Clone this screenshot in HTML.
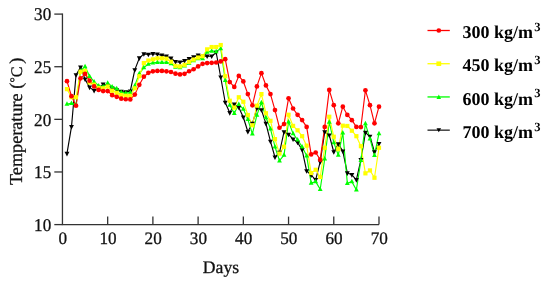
<!DOCTYPE html>
<html><head><meta charset="utf-8"><style>
html,body{margin:0;padding:0;background:#fff;}
body{width:550px;height:288px;overflow:hidden;}
svg{display:block;filter:blur(0.3px);}
text{font-family:"Liberation Serif","Times New Roman",serif;fill:#111;text-rendering:geometricPrecision;stroke:#111;stroke-width:0.3px;}
.lg{font-weight:bold;font-size:18px;fill:#000;stroke:none;}
</style></head><body>
<svg width="550" height="288" viewBox="0 0 550 288">
<rect width="550" height="288" fill="#fff"/>

<g stroke="#333333" stroke-width="1.3" fill="none">
<path d="M62.45 13.45 V224.6 H378.99"/>
<path d="M54.3 224.60 H62.45"/><path d="M54.3 171.97 H62.45"/><path d="M54.3 119.35 H62.45"/><path d="M54.3 66.72 H62.45"/><path d="M54.3 14.10 H62.45"/><path d="M107.67 224.6 V216.6"/><path d="M152.89 224.6 V216.6"/><path d="M198.11 224.6 V216.6"/><path d="M243.33 224.6 V216.6"/><path d="M288.55 224.6 V216.6"/><path d="M333.77 224.6 V216.6"/><path d="M378.99 224.6 V216.6"/></g>

<g fill="none" stroke-width="1.15" stroke-linejoin="round">
<polyline stroke="#000000" points="66.97,153.56 71.49,126.72 76.02,74.93 80.54,67.25 85.06,79.14 89.58,87.35 94.10,90.62 98.63,88.83 103.15,84.20 107.67,85.67 112.19,88.30 116.71,89.88 121.24,91.46 125.76,91.98 130.28,91.14 134.80,69.88 139.32,58.09 143.85,53.88 148.37,54.41 152.89,53.78 157.41,54.20 161.93,55.36 166.46,56.20 170.98,58.30 175.50,61.78 180.02,62.20 184.54,60.83 189.07,58.83 193.59,57.04 198.11,55.25 202.63,56.20 207.15,56.20 211.68,56.20 216.20,52.52 220.72,77.25 225.24,102.51 229.76,112.82 234.29,104.30 238.81,107.46 243.33,117.25 247.85,131.77 252.37,123.56 256.90,108.30 261.42,109.88 265.94,123.56 270.46,141.45 274.98,157.24 279.51,152.50 284.03,131.98 288.55,134.40 293.07,139.14 297.59,142.50 302.12,149.87 306.64,170.92 311.16,175.13 315.68,179.87 320.20,161.98 324.73,131.98 329.25,135.14 333.77,151.98 338.29,144.08 342.81,151.14 347.34,173.03 351.86,174.82 356.38,179.87 360.90,159.87 365.42,132.61 369.95,136.40 374.47,151.98 378.99,143.77"/>
<polyline stroke="#00ff00" points="66.97,104.09 71.49,103.35 76.02,104.62 80.54,70.93 85.06,66.51 89.58,76.20 94.10,81.67 98.63,85.67 103.15,86.72 107.67,82.93 112.19,86.72 116.71,88.62 121.24,92.41 125.76,92.93 130.28,92.51 134.80,85.67 139.32,73.57 143.85,67.57 148.37,63.99 152.89,62.73 157.41,62.20 161.93,62.20 166.46,62.20 170.98,63.57 175.50,66.94 180.02,67.46 184.54,65.88 189.07,62.94 193.59,60.62 198.11,58.62 202.63,58.52 207.15,51.99 211.68,50.94 216.20,51.46 220.72,48.62 225.24,80.20 229.76,105.04 234.29,113.35 238.81,104.40 243.33,109.14 247.85,119.35 252.37,133.87 256.90,115.14 261.42,102.51 265.94,117.56 270.46,128.82 274.98,146.72 279.51,160.71 284.03,155.13 288.55,121.67 293.07,133.66 297.59,139.77 302.12,146.72 306.64,155.87 311.16,183.13 315.68,181.66 320.20,189.24 324.73,158.82 329.25,121.98 333.77,142.50 338.29,155.13 342.81,132.82 347.34,183.24 351.86,181.66 356.38,189.87 360.90,160.40 365.42,123.56 369.95,138.72 374.47,155.24 378.99,133.45"/>
<polyline stroke="#ffff00" points="66.97,89.14 71.49,97.25 76.02,97.25 80.54,71.78 85.06,70.93 89.58,82.51 94.10,84.62 98.63,87.99 103.15,88.30 107.67,86.51 112.19,90.72 116.71,92.83 121.24,94.93 125.76,95.77 130.28,95.77 134.80,88.30 139.32,76.20 143.85,63.04 148.37,60.52 152.89,59.36 157.41,58.30 161.93,58.30 166.46,58.73 170.98,61.67 175.50,65.88 180.02,66.41 184.54,64.83 189.07,61.88 193.59,59.57 198.11,57.57 202.63,56.20 207.15,49.36 211.68,47.04 216.20,47.04 220.72,45.04 225.24,76.20 229.76,100.72 234.29,107.56 238.81,97.25 243.33,101.77 247.85,115.03 252.37,125.24 256.90,105.67 261.42,94.09 265.94,113.25 270.46,120.82 274.98,139.14 279.51,153.56 284.03,146.72 288.55,114.72 293.07,125.88 297.59,130.30 302.12,136.19 306.64,145.66 311.16,173.03 315.68,169.76 320.20,177.03 324.73,147.77 329.25,116.72 333.77,136.72 338.29,149.14 342.81,125.67 347.34,125.98 351.86,130.72 356.38,136.19 360.90,146.19 365.42,173.34 369.95,170.40 374.47,177.76 378.99,147.77"/>
<polyline stroke="#ff0000" points="66.97,81.14 71.49,96.19 76.02,105.67 80.54,78.30 85.06,73.88 89.58,80.72 94.10,86.41 98.63,89.88 103.15,91.04 107.67,91.04 112.19,95.14 116.71,96.83 121.24,98.72 125.76,99.25 130.28,99.46 134.80,94.62 139.32,84.83 143.85,76.72 148.37,72.83 152.89,71.36 157.41,70.93 161.93,70.93 166.46,71.36 170.98,71.99 175.50,73.67 180.02,74.41 184.54,73.78 189.07,71.25 193.59,69.25 198.11,66.41 202.63,63.78 207.15,63.04 211.68,62.83 216.20,62.52 220.72,61.46 225.24,59.15 229.76,82.09 234.29,86.93 238.81,75.88 243.33,81.46 247.85,94.09 252.37,105.35 256.90,86.41 261.42,73.15 265.94,85.46 270.46,94.09 274.98,110.09 279.51,127.77 284.03,124.09 288.55,98.30 293.07,108.51 297.59,114.82 302.12,120.09 306.64,126.93 311.16,154.40 315.68,152.50 320.20,159.66 324.73,126.93 329.25,89.88 333.77,105.14 338.29,123.35 342.81,106.72 347.34,114.93 351.86,120.19 356.38,126.93 360.90,127.03 365.42,90.30 369.95,105.14 374.47,123.35 378.99,106.72"/>
</g>
<g fill="#000000"><path d="M66.97 156.41L69.42 151.81L64.52 151.81Z"/><path d="M71.49 129.57L73.94 124.97L69.04 124.97Z"/><path d="M76.02 77.79L78.47 73.19L73.57 73.19Z"/><path d="M80.54 70.10L82.99 65.50L78.09 65.50Z"/><path d="M85.06 82.00L87.51 77.40L82.61 77.40Z"/><path d="M89.58 90.21L92.03 85.61L87.13 85.61Z"/><path d="M94.10 93.47L96.55 88.87L91.65 88.87Z"/><path d="M98.63 91.68L101.08 87.08L96.18 87.08Z"/><path d="M103.15 87.05L105.60 82.45L100.70 82.45Z"/><path d="M107.67 88.52L110.12 83.92L105.22 83.92Z"/><path d="M112.19 91.15L114.64 86.55L109.74 86.55Z"/><path d="M116.71 92.73L119.16 88.13L114.26 88.13Z"/><path d="M121.24 94.31L123.69 89.71L118.79 89.71Z"/><path d="M125.76 94.84L128.21 90.24L123.31 90.24Z"/><path d="M130.28 94.00L132.73 89.39L127.83 89.39Z"/><path d="M134.80 72.73L137.25 68.13L132.35 68.13Z"/><path d="M139.32 60.95L141.77 56.35L136.87 56.35Z"/><path d="M143.85 56.74L146.30 52.14L141.40 52.14Z"/><path d="M148.37 57.26L150.82 52.66L145.92 52.66Z"/><path d="M152.89 56.63L155.34 52.03L150.44 52.03Z"/><path d="M157.41 57.05L159.86 52.45L154.96 52.45Z"/><path d="M161.93 58.21L164.38 53.61L159.48 53.61Z"/><path d="M166.46 59.05L168.91 54.45L164.01 54.45Z"/><path d="M170.98 61.16L173.43 56.56L168.53 56.56Z"/><path d="M175.50 64.63L177.95 60.03L173.05 60.03Z"/><path d="M180.02 65.05L182.47 60.45L177.57 60.45Z"/><path d="M184.54 63.68L186.99 59.08L182.09 59.08Z"/><path d="M189.07 61.68L191.52 57.08L186.62 57.08Z"/><path d="M193.59 59.89L196.04 55.29L191.14 55.29Z"/><path d="M198.11 58.10L200.56 53.50L195.66 53.50Z"/><path d="M202.63 59.05L205.08 54.45L200.18 54.45Z"/><path d="M207.15 59.05L209.60 54.45L204.70 54.45Z"/><path d="M211.68 59.05L214.13 54.45L209.23 54.45Z"/><path d="M216.20 55.37L218.65 50.77L213.75 50.77Z"/><path d="M220.72 80.10L223.17 75.50L218.27 75.50Z"/><path d="M225.24 105.36L227.69 100.76L222.79 100.76Z"/><path d="M229.76 115.68L232.21 111.08L227.31 111.08Z"/><path d="M234.29 107.15L236.74 102.55L231.84 102.55Z"/><path d="M238.81 110.31L241.26 105.71L236.36 105.71Z"/><path d="M243.33 120.10L245.78 115.50L240.88 115.50Z"/><path d="M247.85 134.62L250.30 130.02L245.40 130.02Z"/><path d="M252.37 126.41L254.82 121.81L249.92 121.81Z"/><path d="M256.90 111.15L259.35 106.55L254.45 106.55Z"/><path d="M261.42 112.73L263.87 108.13L258.97 108.13Z"/><path d="M265.94 126.41L268.39 121.81L263.49 121.81Z"/><path d="M270.46 144.30L272.91 139.70L268.01 139.70Z"/><path d="M274.98 160.09L277.43 155.49L272.53 155.49Z"/><path d="M279.51 155.36L281.96 150.76L277.06 150.76Z"/><path d="M284.03 134.83L286.48 130.23L281.58 130.23Z"/><path d="M288.55 137.25L291.00 132.65L286.10 132.65Z"/><path d="M293.07 141.99L295.52 137.39L290.62 137.39Z"/><path d="M297.59 145.36L300.04 140.76L295.14 140.76Z"/><path d="M302.12 152.72L304.57 148.12L299.67 148.12Z"/><path d="M306.64 173.77L309.09 169.17L304.19 169.17Z"/><path d="M311.16 177.98L313.61 173.38L308.71 173.38Z"/><path d="M315.68 182.72L318.13 178.12L313.23 178.12Z"/><path d="M320.20 164.83L322.65 160.23L317.75 160.23Z"/><path d="M324.73 134.83L327.18 130.23L322.28 130.23Z"/><path d="M329.25 137.99L331.70 133.39L326.80 133.39Z"/><path d="M333.77 154.83L336.22 150.23L331.32 150.23Z"/><path d="M338.29 146.94L340.74 142.34L335.84 142.34Z"/><path d="M342.81 153.99L345.26 149.39L340.36 149.39Z"/><path d="M347.34 175.88L349.79 171.28L344.89 171.28Z"/><path d="M351.86 177.67L354.31 173.07L349.41 173.07Z"/><path d="M356.38 182.72L358.83 178.12L353.93 178.12Z"/><path d="M360.90 162.72L363.35 158.12L358.45 158.12Z"/><path d="M365.42 135.46L367.87 130.86L362.97 130.86Z"/><path d="M369.95 139.25L372.40 134.65L367.50 134.65Z"/><path d="M374.47 154.83L376.92 150.23L372.02 150.23Z"/><path d="M378.99 146.62L381.44 142.02L376.54 142.02Z"/></g>
<g fill="#00ff00"><path d="M66.97 101.30L69.37 105.80L64.57 105.80Z"/><path d="M71.49 100.56L73.89 105.06L69.09 105.06Z"/><path d="M76.02 101.83L78.42 106.33L73.62 106.33Z"/><path d="M80.54 68.14L82.94 72.64L78.14 72.64Z"/><path d="M85.06 63.72L87.46 68.22L82.66 68.22Z"/><path d="M89.58 73.41L91.98 77.91L87.18 77.91Z"/><path d="M94.10 78.88L96.50 83.38L91.70 83.38Z"/><path d="M98.63 82.88L101.03 87.38L96.23 87.38Z"/><path d="M103.15 83.93L105.55 88.43L100.75 88.43Z"/><path d="M107.67 80.14L110.07 84.64L105.27 84.64Z"/><path d="M112.19 83.93L114.59 88.43L109.79 88.43Z"/><path d="M116.71 85.83L119.11 90.33L114.31 90.33Z"/><path d="M121.24 89.62L123.64 94.12L118.84 94.12Z"/><path d="M125.76 90.14L128.16 94.64L123.36 94.64Z"/><path d="M130.28 89.72L132.68 94.22L127.88 94.22Z"/><path d="M134.80 82.88L137.20 87.38L132.40 87.38Z"/><path d="M139.32 70.78L141.72 75.28L136.92 75.28Z"/><path d="M143.85 64.78L146.25 69.28L141.45 69.28Z"/><path d="M148.37 61.20L150.77 65.70L145.97 65.70Z"/><path d="M152.89 59.94L155.29 64.44L150.49 64.44Z"/><path d="M157.41 59.41L159.81 63.91L155.01 63.91Z"/><path d="M161.93 59.41L164.33 63.91L159.53 63.91Z"/><path d="M166.46 59.41L168.86 63.91L164.06 63.91Z"/><path d="M170.98 60.78L173.38 65.28L168.58 65.28Z"/><path d="M175.50 64.15L177.90 68.65L173.10 68.65Z"/><path d="M180.02 64.67L182.42 69.17L177.62 69.17Z"/><path d="M184.54 63.09L186.94 67.59L182.14 67.59Z"/><path d="M189.07 60.15L191.47 64.65L186.67 64.65Z"/><path d="M193.59 57.83L195.99 62.33L191.19 62.33Z"/><path d="M198.11 55.83L200.51 60.33L195.71 60.33Z"/><path d="M202.63 55.73L205.03 60.23L200.23 60.23Z"/><path d="M207.15 49.20L209.55 53.70L204.75 53.70Z"/><path d="M211.68 48.15L214.08 52.65L209.28 52.65Z"/><path d="M216.20 48.67L218.60 53.17L213.80 53.17Z"/><path d="M220.72 45.83L223.12 50.33L218.32 50.33Z"/><path d="M225.24 77.41L227.64 81.91L222.84 81.91Z"/><path d="M229.76 102.25L232.16 106.75L227.36 106.75Z"/><path d="M234.29 110.56L236.69 115.06L231.89 115.06Z"/><path d="M238.81 101.61L241.21 106.11L236.41 106.11Z"/><path d="M243.33 106.35L245.73 110.85L240.93 110.85Z"/><path d="M247.85 116.56L250.25 121.06L245.45 121.06Z"/><path d="M252.37 131.08L254.77 135.58L249.97 135.58Z"/><path d="M256.90 112.35L259.30 116.85L254.50 116.85Z"/><path d="M261.42 99.72L263.82 104.22L259.02 104.22Z"/><path d="M265.94 114.77L268.34 119.27L263.54 119.27Z"/><path d="M270.46 126.03L272.86 130.53L268.06 130.53Z"/><path d="M274.98 143.93L277.38 148.43L272.58 148.43Z"/><path d="M279.51 157.92L281.91 162.42L277.11 162.42Z"/><path d="M284.03 152.34L286.43 156.84L281.63 156.84Z"/><path d="M288.55 118.88L290.95 123.38L286.15 123.38Z"/><path d="M293.07 130.87L295.47 135.37L290.67 135.37Z"/><path d="M297.59 136.98L299.99 141.48L295.19 141.48Z"/><path d="M302.12 143.93L304.52 148.43L299.72 148.43Z"/><path d="M306.64 153.08L309.04 157.58L304.24 157.58Z"/><path d="M311.16 180.34L313.56 184.84L308.76 184.84Z"/><path d="M315.68 178.87L318.08 183.37L313.28 183.37Z"/><path d="M320.20 186.45L322.60 190.95L317.80 190.95Z"/><path d="M324.73 156.03L327.13 160.53L322.33 160.53Z"/><path d="M329.25 119.19L331.65 123.69L326.85 123.69Z"/><path d="M333.77 139.72L336.17 144.22L331.37 144.22Z"/><path d="M338.29 152.34L340.69 156.84L335.89 156.84Z"/><path d="M342.81 130.03L345.21 134.53L340.41 134.53Z"/><path d="M347.34 180.45L349.74 184.95L344.94 184.95Z"/><path d="M351.86 178.87L354.26 183.37L349.46 183.37Z"/><path d="M356.38 187.08L358.78 191.58L353.98 191.58Z"/><path d="M360.90 157.61L363.30 162.11L358.50 162.11Z"/><path d="M365.42 120.77L367.82 125.27L363.02 125.27Z"/><path d="M369.95 135.93L372.35 140.43L367.55 140.43Z"/><path d="M374.47 152.45L376.87 156.95L372.07 156.95Z"/><path d="M378.99 130.66L381.39 135.16L376.59 135.16Z"/></g>
<g fill="#ffff00"><rect x="64.87" y="87.04" width="4.2" height="4.2"/><rect x="69.39" y="95.15" width="4.2" height="4.2"/><rect x="73.92" y="95.15" width="4.2" height="4.2"/><rect x="78.44" y="69.68" width="4.2" height="4.2"/><rect x="82.96" y="68.83" width="4.2" height="4.2"/><rect x="87.48" y="80.41" width="4.2" height="4.2"/><rect x="92.00" y="82.52" width="4.2" height="4.2"/><rect x="96.53" y="85.89" width="4.2" height="4.2"/><rect x="101.05" y="86.20" width="4.2" height="4.2"/><rect x="105.57" y="84.41" width="4.2" height="4.2"/><rect x="110.09" y="88.62" width="4.2" height="4.2"/><rect x="114.61" y="90.73" width="4.2" height="4.2"/><rect x="119.14" y="92.83" width="4.2" height="4.2"/><rect x="123.66" y="93.67" width="4.2" height="4.2"/><rect x="128.18" y="93.67" width="4.2" height="4.2"/><rect x="132.70" y="86.20" width="4.2" height="4.2"/><rect x="137.22" y="74.10" width="4.2" height="4.2"/><rect x="141.75" y="60.94" width="4.2" height="4.2"/><rect x="146.27" y="58.42" width="4.2" height="4.2"/><rect x="150.79" y="57.26" width="4.2" height="4.2"/><rect x="155.31" y="56.20" width="4.2" height="4.2"/><rect x="159.83" y="56.20" width="4.2" height="4.2"/><rect x="164.36" y="56.63" width="4.2" height="4.2"/><rect x="168.88" y="59.57" width="4.2" height="4.2"/><rect x="173.40" y="63.78" width="4.2" height="4.2"/><rect x="177.92" y="64.31" width="4.2" height="4.2"/><rect x="182.44" y="62.73" width="4.2" height="4.2"/><rect x="186.97" y="59.78" width="4.2" height="4.2"/><rect x="191.49" y="57.47" width="4.2" height="4.2"/><rect x="196.01" y="55.47" width="4.2" height="4.2"/><rect x="200.53" y="54.10" width="4.2" height="4.2"/><rect x="205.05" y="47.26" width="4.2" height="4.2"/><rect x="209.58" y="44.94" width="4.2" height="4.2"/><rect x="214.10" y="44.94" width="4.2" height="4.2"/><rect x="218.62" y="42.94" width="4.2" height="4.2"/><rect x="223.14" y="74.10" width="4.2" height="4.2"/><rect x="227.66" y="98.62" width="4.2" height="4.2"/><rect x="232.19" y="105.46" width="4.2" height="4.2"/><rect x="236.71" y="95.15" width="4.2" height="4.2"/><rect x="241.23" y="99.67" width="4.2" height="4.2"/><rect x="245.75" y="112.93" width="4.2" height="4.2"/><rect x="250.27" y="123.14" width="4.2" height="4.2"/><rect x="254.80" y="103.57" width="4.2" height="4.2"/><rect x="259.32" y="91.99" width="4.2" height="4.2"/><rect x="263.84" y="111.15" width="4.2" height="4.2"/><rect x="268.36" y="118.72" width="4.2" height="4.2"/><rect x="272.88" y="137.04" width="4.2" height="4.2"/><rect x="277.41" y="151.46" width="4.2" height="4.2"/><rect x="281.93" y="144.62" width="4.2" height="4.2"/><rect x="286.45" y="112.62" width="4.2" height="4.2"/><rect x="290.97" y="123.78" width="4.2" height="4.2"/><rect x="295.49" y="128.20" width="4.2" height="4.2"/><rect x="300.02" y="134.09" width="4.2" height="4.2"/><rect x="304.54" y="143.56" width="4.2" height="4.2"/><rect x="309.06" y="170.93" width="4.2" height="4.2"/><rect x="313.58" y="167.66" width="4.2" height="4.2"/><rect x="318.10" y="174.93" width="4.2" height="4.2"/><rect x="322.63" y="145.67" width="4.2" height="4.2"/><rect x="327.15" y="114.62" width="4.2" height="4.2"/><rect x="331.67" y="134.62" width="4.2" height="4.2"/><rect x="336.19" y="147.04" width="4.2" height="4.2"/><rect x="340.71" y="123.57" width="4.2" height="4.2"/><rect x="345.24" y="123.88" width="4.2" height="4.2"/><rect x="349.76" y="128.62" width="4.2" height="4.2"/><rect x="354.28" y="134.09" width="4.2" height="4.2"/><rect x="358.80" y="144.09" width="4.2" height="4.2"/><rect x="363.32" y="171.24" width="4.2" height="4.2"/><rect x="367.85" y="168.30" width="4.2" height="4.2"/><rect x="372.37" y="175.66" width="4.2" height="4.2"/><rect x="376.89" y="145.67" width="4.2" height="4.2"/></g>
<g fill="#ff0000"><circle cx="66.97" cy="81.14" r="2.35"/><circle cx="71.49" cy="96.19" r="2.35"/><circle cx="76.02" cy="105.67" r="2.35"/><circle cx="80.54" cy="78.30" r="2.35"/><circle cx="85.06" cy="73.88" r="2.35"/><circle cx="89.58" cy="80.72" r="2.35"/><circle cx="94.10" cy="86.41" r="2.35"/><circle cx="98.63" cy="89.88" r="2.35"/><circle cx="103.15" cy="91.04" r="2.35"/><circle cx="107.67" cy="91.04" r="2.35"/><circle cx="112.19" cy="95.14" r="2.35"/><circle cx="116.71" cy="96.83" r="2.35"/><circle cx="121.24" cy="98.72" r="2.35"/><circle cx="125.76" cy="99.25" r="2.35"/><circle cx="130.28" cy="99.46" r="2.35"/><circle cx="134.80" cy="94.62" r="2.35"/><circle cx="139.32" cy="84.83" r="2.35"/><circle cx="143.85" cy="76.72" r="2.35"/><circle cx="148.37" cy="72.83" r="2.35"/><circle cx="152.89" cy="71.36" r="2.35"/><circle cx="157.41" cy="70.93" r="2.35"/><circle cx="161.93" cy="70.93" r="2.35"/><circle cx="166.46" cy="71.36" r="2.35"/><circle cx="170.98" cy="71.99" r="2.35"/><circle cx="175.50" cy="73.67" r="2.35"/><circle cx="180.02" cy="74.41" r="2.35"/><circle cx="184.54" cy="73.78" r="2.35"/><circle cx="189.07" cy="71.25" r="2.35"/><circle cx="193.59" cy="69.25" r="2.35"/><circle cx="198.11" cy="66.41" r="2.35"/><circle cx="202.63" cy="63.78" r="2.35"/><circle cx="207.15" cy="63.04" r="2.35"/><circle cx="211.68" cy="62.83" r="2.35"/><circle cx="216.20" cy="62.52" r="2.35"/><circle cx="220.72" cy="61.46" r="2.35"/><circle cx="225.24" cy="59.15" r="2.35"/><circle cx="229.76" cy="82.09" r="2.35"/><circle cx="234.29" cy="86.93" r="2.35"/><circle cx="238.81" cy="75.88" r="2.35"/><circle cx="243.33" cy="81.46" r="2.35"/><circle cx="247.85" cy="94.09" r="2.35"/><circle cx="252.37" cy="105.35" r="2.35"/><circle cx="256.90" cy="86.41" r="2.35"/><circle cx="261.42" cy="73.15" r="2.35"/><circle cx="265.94" cy="85.46" r="2.35"/><circle cx="270.46" cy="94.09" r="2.35"/><circle cx="274.98" cy="110.09" r="2.35"/><circle cx="279.51" cy="127.77" r="2.35"/><circle cx="284.03" cy="124.09" r="2.35"/><circle cx="288.55" cy="98.30" r="2.35"/><circle cx="293.07" cy="108.51" r="2.35"/><circle cx="297.59" cy="114.82" r="2.35"/><circle cx="302.12" cy="120.09" r="2.35"/><circle cx="306.64" cy="126.93" r="2.35"/><circle cx="311.16" cy="154.40" r="2.35"/><circle cx="315.68" cy="152.50" r="2.35"/><circle cx="320.20" cy="159.66" r="2.35"/><circle cx="324.73" cy="126.93" r="2.35"/><circle cx="329.25" cy="89.88" r="2.35"/><circle cx="333.77" cy="105.14" r="2.35"/><circle cx="338.29" cy="123.35" r="2.35"/><circle cx="342.81" cy="106.72" r="2.35"/><circle cx="347.34" cy="114.93" r="2.35"/><circle cx="351.86" cy="120.19" r="2.35"/><circle cx="356.38" cy="126.93" r="2.35"/><circle cx="360.90" cy="127.03" r="2.35"/><circle cx="365.42" cy="90.30" r="2.35"/><circle cx="369.95" cy="105.14" r="2.35"/><circle cx="374.47" cy="123.35" r="2.35"/><circle cx="378.99" cy="106.72" r="2.35"/></g>

<text transform="translate(51.20,230.80) scale(0.95,1)" text-anchor="end" style="font-size:18px">10</text><text transform="translate(51.20,178.17) scale(0.95,1)" text-anchor="end" style="font-size:18px">15</text><text transform="translate(51.20,125.55) scale(0.95,1)" text-anchor="end" style="font-size:18px">20</text><text transform="translate(51.20,72.92) scale(0.95,1)" text-anchor="end" style="font-size:18px">25</text><text transform="translate(51.20,20.30) scale(0.95,1)" text-anchor="end" style="font-size:18px">30</text>
<text transform="translate(62.75,244) scale(0.98,1)" text-anchor="middle" style="font-size:17.5px">0</text><text transform="translate(107.97,244) scale(0.98,1)" text-anchor="middle" style="font-size:17.5px">10</text><text transform="translate(153.19,244) scale(0.98,1)" text-anchor="middle" style="font-size:17.5px">20</text><text transform="translate(198.41,244) scale(0.98,1)" text-anchor="middle" style="font-size:17.5px">30</text><text transform="translate(243.63,244) scale(0.98,1)" text-anchor="middle" style="font-size:17.5px">40</text><text transform="translate(288.85,244) scale(0.98,1)" text-anchor="middle" style="font-size:17.5px">50</text><text transform="translate(334.07,244) scale(0.98,1)" text-anchor="middle" style="font-size:17.5px">60</text><text transform="translate(379.29,244) scale(0.98,1)" text-anchor="middle" style="font-size:17.5px">70</text>
<text transform="translate(221,273.2)" text-anchor="middle" style="font-size:17.7px">Days</text>
<text transform="translate(21.8,121.4) rotate(-90)" text-anchor="middle" style="font-size:18.2px">Temperature (<tspan dx="0.4" dy="-3.2" style="font-size:13px">°</tspan><tspan dx="-0.1" dy="3.2" style="font-size:16.2px">C</tspan><tspan dx="2.6">)</tspan></text>
<path d="M427.5 30.50 H449.8" stroke="#ff0000" stroke-width="1.3"/><circle cx="438.8" cy="30.50" r="2.35" fill="#ff0000"/><text x="462.6" y="38.00" class="lg">300 kg/m<tspan dx="1.1" dy="-7.2" style="font-size:12.6px">3</tspan></text><path d="M427.5 63.72 H449.8" stroke="#ffff00" stroke-width="1.3"/><rect x="436.40" y="61.42" width="4.8" height="4.6" fill="#ffff00"/><text x="462.6" y="71.32" class="lg">450 kg/m<tspan dx="1.1" dy="-7.2" style="font-size:12.6px">3</tspan></text><path d="M427.5 96.94 H449.8" stroke="#00ff00" stroke-width="1.3"/><path d="M438.8 94.54L441.10 98.94L436.50 98.94Z" fill="#00ff00"/><text x="462.6" y="104.64" class="lg">600 kg/m<tspan dx="1.1" dy="-7.2" style="font-size:12.6px">3</tspan></text><path d="M427.5 130.16 H449.8" stroke="#222" stroke-width="1.3"/><path d="M438.8 132.36L441.10 128.16L436.50 128.16Z" fill="#000000"/><text x="462.6" y="137.96" class="lg">700 kg/m<tspan dx="1.1" dy="-7.2" style="font-size:12.6px">3</tspan></text>
</svg>
</body></html>
